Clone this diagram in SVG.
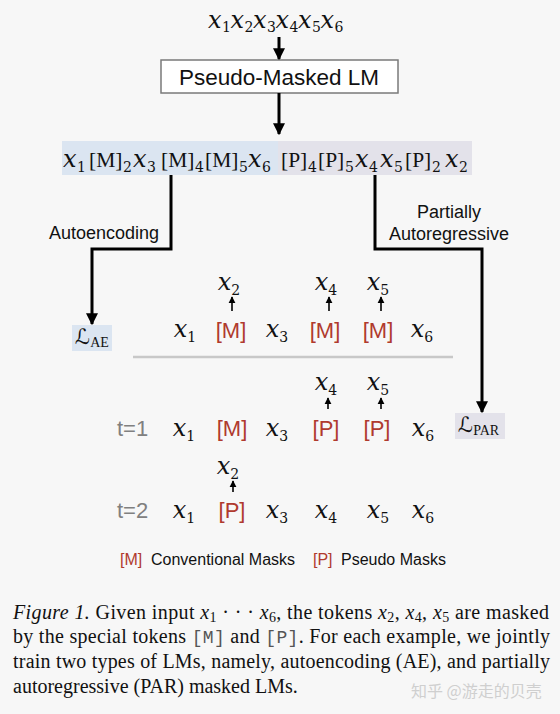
<svg xmlns="http://www.w3.org/2000/svg" width="560" height="714" viewBox="0 0 560 714">
<defs>
<marker id="bigArrow" viewBox="0 0 10 10" refX="9" refY="5" markerWidth="4" markerHeight="4" orient="auto" markerUnits="strokeWidth">
<path d="M0,0 L10,5 L0,10 z" fill="#000"/>
</marker>
<marker id="smallArrow" viewBox="0 0 10 10" refX="9" refY="5" markerWidth="4.5" markerHeight="4.5" orient="auto" markerUnits="strokeWidth">
<path d="M0,0 L10,5 L0,10 z" fill="#000"/>
</marker>
<style>
.mi{font-family:"DejaVu Serif",serif;font-style:italic;font-size:24px;fill:#111}
.up{font-family:"Liberation Serif","DejaVu Serif",serif;font-style:normal;font-size:21.5px;fill:#111}
.sub{font-family:"DejaVu Serif",serif;font-style:normal;font-size:14px}
.mask{font-family:"Liberation Sans",Arial,sans-serif;font-size:22px;fill:#b03a2e}
.tl{font-family:"Liberation Sans",Arial,sans-serif;font-size:22px;fill:#808080}
.lab{font-family:"Liberation Sans",Arial,sans-serif;font-size:18px;fill:#111}
.leg{font-family:"Liberation Sans",Arial,sans-serif;font-size:16px;fill:#111}
.cap{font-family:"Liberation Serif","Times New Roman",serif;font-size:20px;fill:#111}
.cm{font-style:italic}
.mono{font-family:"Liberation Mono","Courier New",monospace;font-size:18px;fill:#555}
.big{stroke:#000;stroke-width:3;fill:none;marker-end:url(#bigArrow)}
.sm{stroke:#000;stroke-width:1.6;fill:none;marker-end:url(#smallArrow)}
.c{text-anchor:middle}
</style>
</defs>
<rect width="560" height="714" fill="#f7f7f7"/>

<g id="input">
<text class="mi" y="28"><tspan x="208">x</tspan><tspan class="sub" x="222" dy="4">1</tspan><tspan x="230.5" dy="-4">x</tspan><tspan class="sub" x="244.5" dy="4">2</tspan><tspan x="253" dy="-4">x</tspan><tspan class="sub" x="267" dy="4">3</tspan><tspan x="275.5" dy="-4">x</tspan><tspan class="sub" x="289.5" dy="4">4</tspan><tspan x="298" dy="-4">x</tspan><tspan class="sub" x="312" dy="4">5</tspan><tspan x="320.5" dy="-4">x</tspan><tspan class="sub" x="334.5" dy="4">6</tspan></text>
</g>

<g id="pmlm">
<rect x="161" y="60" width="237" height="33" fill="#fff" stroke="#7a7a7a" stroke-width="1.5"/>
<text x="279" y="85" text-anchor="middle" font-family="Liberation Sans, Arial, sans-serif" font-size="22.5" fill="#111">Pseudo-Masked LM</text>
</g>

<g id="sequence">
<rect x="62" y="141" width="216" height="34" fill="#dbe5f1"/>
<rect x="278" y="141" width="194" height="34" fill="#e3e2ea"/>
<text class="mi" y="167"><tspan x="63">x</tspan><tspan class="sub" x="77" dy="5">1</tspan></text>
<text class="up" y="167"><tspan x="89">[M]</tspan><tspan class="sub" x="123" dy="5">2</tspan></text>
<text class="mi" y="167"><tspan x="133">x</tspan><tspan class="sub" x="147" dy="5">3</tspan></text>
<text class="up" y="167"><tspan x="161">[M]</tspan><tspan class="sub" x="195" dy="5">4</tspan></text>
<text class="up" y="167"><tspan x="205">[M]</tspan><tspan class="sub" x="239" dy="5">5</tspan></text>
<text class="mi" y="167"><tspan x="248">x</tspan><tspan class="sub" x="262" dy="5">6</tspan></text>
<text class="up" y="167"><tspan x="281">[P]</tspan><tspan class="sub" x="308" dy="5">4</tspan></text>
<text class="up" y="167"><tspan x="318">[P]</tspan><tspan class="sub" x="345" dy="5">5</tspan></text>
<text class="mi" y="167"><tspan x="355">x</tspan><tspan class="sub" x="369" dy="5">4</tspan></text>
<text class="mi" y="167"><tspan x="380">x</tspan><tspan class="sub" x="394" dy="5">5</tspan></text>
<text class="up" y="167"><tspan x="405">[P]</tspan><tspan class="sub" x="432" dy="5">2</tspan></text>
<text class="mi" y="167"><tspan x="445">x</tspan><tspan class="sub" x="459" dy="5">2</tspan></text>
</g>

<g id="labels">
<text class="lab" x="49" y="239">Autoencoding</text>
<text class="lab c" x="449" y="218">Partially</text>
<text class="lab c" x="449" y="240">Autoregressive</text>
</g>

<g id="loss-ae">
<rect x="72" y="325" width="40" height="26" fill="#dbe5f1"/>
<text x="75" y="344" font-family="DejaVu Serif, DejaVu Sans, serif" font-size="21" font-style="italic" fill="#111">ℒ<tspan font-family="Liberation Serif, serif" font-style="normal" font-size="14" dy="3">AE</tspan></text>
</g>

<g id="loss-par">
<rect x="455" y="413" width="50" height="26" fill="#e3e2ea"/>
<text x="458" y="432" font-family="DejaVu Serif, DejaVu Sans, serif" font-size="21" font-style="italic" fill="#111">ℒ<tspan font-family="Liberation Serif, serif" font-style="normal" font-size="14" dy="3">PAR</tspan></text>
</g>

<g id="row-ae">
<text class="mi c" x="229" y="290">x<tspan class="sub" dy="5">2</tspan></text>
<text class="mi c" x="326" y="290">x<tspan class="sub" dy="5">4</tspan></text>
<text class="mi c" x="378" y="290">x<tspan class="sub" dy="5">5</tspan></text>
<text class="mi c" x="185" y="337">x<tspan class="sub" dy="5">1</tspan></text>
<text class="mask c" x="231" y="338">[M]</text>
<text class="mi c" x="277" y="337">x<tspan class="sub" dy="5">3</tspan></text>
<text class="mask c" x="325" y="338">[M]</text>
<text class="mask c" x="378" y="338">[M]</text>
<text class="mi c" x="422" y="337">x<tspan class="sub" dy="5">6</tspan></text>
</g>

<line id="divider" x1="133" y1="357" x2="453" y2="357" stroke="#c8c8c8" stroke-width="2.5"/>

<g id="row-t1">
<text class="tl" x="117" y="436">t=1</text>
<text class="mi c" x="326" y="390">x<tspan class="sub" dy="5">4</tspan></text>
<text class="mi c" x="378" y="390">x<tspan class="sub" dy="5">5</tspan></text>
<text class="mi c" x="184" y="436">x<tspan class="sub" dy="5">1</tspan></text>
<text class="mask c" x="232" y="436">[M]</text>
<text class="mi c" x="277" y="436">x<tspan class="sub" dy="5">3</tspan></text>
<text class="mask c" x="326" y="436">[P]</text>
<text class="mask c" x="377" y="436">[P]</text>
<text class="mi c" x="423" y="436">x<tspan class="sub" dy="5">6</tspan></text>
</g>

<g id="row-t2">
<text class="tl" x="117" y="518">t=2</text>
<text class="mi c" x="228" y="474">x<tspan class="sub" dy="5">2</tspan></text>
<text class="mi c" x="184" y="518">x<tspan class="sub" dy="5">1</tspan></text>
<text class="mask c" x="232" y="518">[P]</text>
<text class="mi c" x="277" y="518">x<tspan class="sub" dy="5">3</tspan></text>
<text class="mi c" x="326" y="518">x<tspan class="sub" dy="5">4</tspan></text>
<text class="mi c" x="378" y="518">x<tspan class="sub" dy="5">5</tspan></text>
<text class="mi c" x="423" y="518">x<tspan class="sub" dy="5">6</tspan></text>
</g>

<g id="connectors">
<line class="big" x1="279" y1="37" x2="279" y2="59"/>
<line class="big" x1="279" y1="93" x2="279" y2="134"/>
<polyline class="big" points="171,175 171,249 92,249 92,324"/>
<polyline class="big" points="375,175 375,249 482,249 482,412"/>
<line class="sm" x1="232" y1="311" x2="232" y2="297"/>
<line class="sm" x1="329" y1="311" x2="329" y2="297"/>
<line class="sm" x1="381" y1="311" x2="381" y2="297"/>
<line class="sm" x1="328" y1="409" x2="328" y2="398"/>
<line class="sm" x1="381" y1="409" x2="381" y2="398"/>
<line class="sm" x1="233" y1="492" x2="233" y2="481"/>
</g>

<g id="legend">
<text class="leg" x="120" y="565" style="fill:#b03a2e">[M]</text>
<text class="leg" x="151" y="565">Conventional Masks</text>
<text class="leg" x="313" y="565" style="fill:#b03a2e">[P]</text>
<text class="leg" x="341" y="565">Pseudo Masks</text>
</g>

<g id="caption">
<text class="cap" x="13" y="619" textLength="536" lengthAdjust="spacing"><tspan class="cm">Figure 1.</tspan>  Given input <tspan class="cm">x</tspan><tspan font-size="14" dy="3">1</tspan><tspan dy="-3"> · · · </tspan><tspan class="cm">x</tspan><tspan font-size="14" dy="3">6</tspan><tspan dy="-3">, the tokens </tspan><tspan class="cm">x</tspan><tspan font-size="14" dy="3">2</tspan><tspan dy="-3">, </tspan><tspan class="cm">x</tspan><tspan font-size="14" dy="3">4</tspan><tspan dy="-3">, </tspan><tspan class="cm">x</tspan><tspan font-size="14" dy="3">5</tspan><tspan dy="-3"> are masked</tspan></text>
<text class="cap" x="13" y="643" textLength="537" lengthAdjust="spacing">by the special tokens <tspan class="mono">[M]</tspan> and <tspan class="mono">[P]</tspan>. For each example, we jointly</text>
<text class="cap" x="13" y="668" textLength="537" lengthAdjust="spacing">train two types of LMs, namely, autoencoding (AE), and partially</text>
<text class="cap" x="13" y="693">autoregressive (PAR) masked LMs.</text>
</g>

<text id="watermark" x="411" y="697" font-family="Noto Sans CJK SC, sans-serif" font-size="16" fill="#cfcfcf">知乎 @游走的贝壳</text>
</svg>
